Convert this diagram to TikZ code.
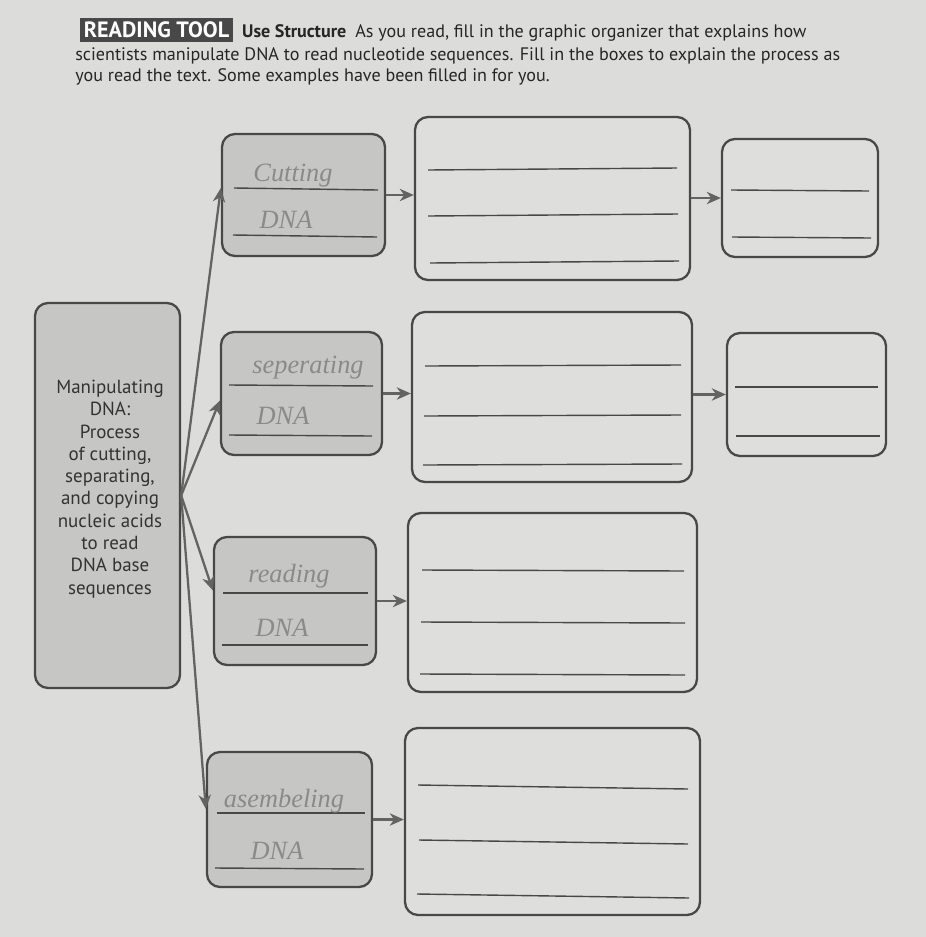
\documentclass[tikz,border=0pt]{standalone}
\usepackage{fontspec}
\setmainfont{PT Sans}
\newfontfamily\hand{Liberation Serif}
\usetikzlibrary{arrows.meta,fit}
\definecolor{paper}{HTML}{DCDCDA}
\definecolor{boxfill}{HTML}{DEDEDC}
\definecolor{shade}{HTML}{C6C6C4}
\definecolor{ink}{HTML}{484848}
\definecolor{pencil}{HTML}{8A8A8A}
\definecolor{arrowc}{HTML}{636363}
\tikzset{
 greybox/.style={draw=ink, line width=1.3pt, rounded corners=0.26cm, fill=shade, inner sep=0pt},
 whitebox/.style={draw=ink, line width=1.3pt, rounded corners=0.26cm, fill=boxfill, inner sep=0pt},
 rule/.style={draw=ink, line width=0.8pt},
 conn/.style={draw=arrowc, line width=1.3pt, -{Stealth[length=8pt,width=7pt,inset=2.5pt]}},
 handtext/.style={font=\hand\itshape\fontsize{15}{15}\selectfont, text=pencil},
 headtext/.style={font=\fontsize{10.3}{12}\selectfont, text=black!85, anchor=base west, inner sep=0pt},
}
\begin{document}
\begin{tikzpicture}[x=0.02cm,y=-0.02cm]
\fill[paper] (0,0) rectangle (926,937);
\useasboundingbox (0,0) rectangle (926,937);

% header
\node[fill=ink, text=white, font=\bfseries\fontsize{12.6}{12.6}\selectfont, inner xsep=2pt, inner ysep=2.5pt, anchor=west] (tag) at (80,30) {READING TOOL};
\node[headtext, anchor=base west] (h1) at ([xshift=5pt]tag.base east) {\textbf{Use Structure}\enspace As you read, fill in the graphic organizer that explains how};
\node[headtext] (h2) at (75,60) {scientists manipulate DNA to read nucleotide sequences. Fill in the boxes to explain the process as};
\node[headtext] (h3) at (75,81) {you read the text. Some examples have been filled in for you.};

% left main box
\node[greybox, fit={(35,303)(180,688)}] (L) {};
\node[align=center, font=\fontsize{10.8}{12.7}\selectfont, text=black!80] (Ltext) at (110,489) {Manipulating\\DNA:\\Process\\of cutting,\\separating,\\and copying\\nucleic acids\\to read\\DNA base\\sequences};

% row 1
\node[greybox, fit={(222,134)(385,256)}] (s1) {};
\draw[rule] (234,188) -- (378,190);
\draw[rule] (233,235) -- (377,237);
\node[handtext] (t1a) at (293,176) {Cutting};
\node[handtext] (t1b) at (286,220) {DNA};
\node[whitebox, fit={(415,117)(690,280)}] (m1) {};
\draw[rule] (428,170) -- (677,168);
\draw[rule] (428,216) -- (678,214);
\draw[rule] (430,263) -- (679,261);
\node[whitebox, fit={(722,139)(878,257)}] (r1) {};
\draw[rule] (731,190) -- (869,191);
\draw[rule] (732,237) -- (871,238);

% row 2
\node[greybox, fit={(221,332)(382,455)}] (s2) {};
\draw[rule] (229,385) -- (373,386);
\draw[rule] (229,435) -- (372,436);
\node[handtext] (t2a) at (308,368) {seperating};
\node[handtext] (t2b) at (283,416) {DNA};
\node[whitebox, fit={(412,312)(692,482)}] (m2) {};
\draw[rule] (425,366) -- (681,365);
\draw[rule] (424,416) -- (681,415);
\draw[rule] (423,465) -- (682,464);
\node[whitebox, fit={(727,333)(886,456)}] (r2) {};
\draw[rule] (735,387) -- (878,387);
\draw[rule] (736,436) -- (880,436);

% row 3
\node[greybox, fit={(214,537)(376,665)}] (s3) {};
\draw[rule] (223,593) -- (368,593);
\draw[rule] (222,645) -- (368,645);
\node[handtext] (t3a) at (289,576) {reading};
\node[handtext] (t3b) at (282,628) {DNA};
\node[whitebox, fit={(408,513)(697,692)}] (m3) {};
\draw[rule] (422,570) -- (684,571);
\draw[rule] (421,622) -- (685,623);
\draw[rule] (420,674) -- (685,675);

% row 4
\node[greybox, fit={(207,752)(372,887)}] (s4) {};
\draw[rule] (217,813) -- (365,813);
\draw[rule] (215,868) -- (364,869);
\node[handtext] (t4a) at (284,801) {asembeling};
\node[handtext] (t4b) at (277,851) {DNA};
\node[whitebox, fit={(405,728)(700,915)}] (m4) {};
\draw[rule] (418,785) -- (688,789);
\draw[rule] (419,840) -- (688,844);
\draw[rule] (417,894) -- (689,898);

% connectors
\coordinate (hub) at (L.east);
\draw[conn] (hub) -- ([yshift=4pt]s1.west);
\draw[conn] (hub) -- ([yshift=-4pt]s2.west);
\draw[conn] (hub) -- ([yshift=6pt]s3.west);
\draw[conn] (hub) -- ([yshift=6pt]s4.west);
\draw[conn] (s1.east) -- (s1.east -| m1.west);
\draw[conn] (m1.east |- r1.west) -- (r1.west);
\draw[conn] (s2.east) -- (s2.east -| m2.west);
\draw[conn] (m2.east |- r2.west) -- (r2.west);
\draw[conn] (s3.east) -- (s3.east -| m3.west);
\draw[conn] (s4.east) -- (s4.east -| m4.west);
\end{tikzpicture}
\end{document}
